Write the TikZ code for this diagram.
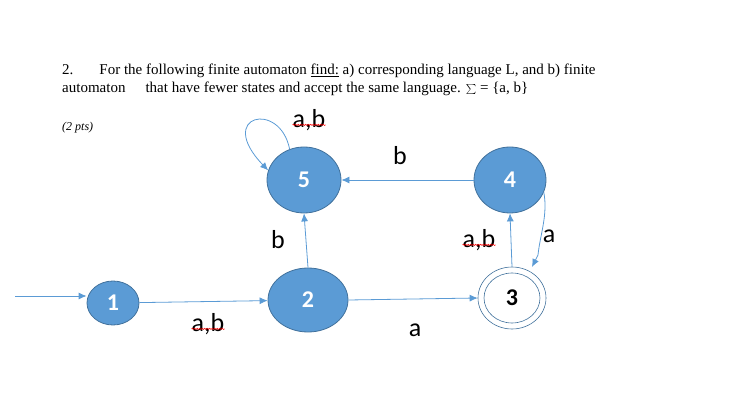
\documentclass[tikz,border=0pt]{standalone}
\usepackage{fontspec}
\setmainfont{Liberation Serif}
\newfontfamily\calfont{Carlito}
\usetikzlibrary{arrows.meta,decorations.pathmorphing,shapes.geometric}
\definecolor{fillb}{HTML}{5B9BD5}
\definecolor{edgeb}{HTML}{41719C}
\begin{document}
\begin{tikzpicture}[x=1pt,y=-1pt,
  st/.style={ellipse,draw=edgeb,fill=fillb,line width=0.8pt,text=white,font=\calfont\bfseries\fontsize{24}{24}\selectfont,inner sep=0pt},
  tr/.style={draw=fillb,line width=0.8pt,-{Latex[length=8pt,width=7pt]}},
  lb/.style={font=\calfont\fontsize{26}{26}\selectfont,inner sep=0pt},
  sq/.style={draw=red,line width=0.5pt,decorate,decoration={snake,amplitude=0.7pt,segment length=2.5pt}}]
\useasboundingbox (0,0) rectangle (729,409);
\node[anchor=base west,font=\fontsize{15}{15}\selectfont,text width=626pt,align=justify,inner sep=0pt] (h1) at (62,75) {\parfillskip=0pt 2.\hspace{26pt}For the following finite automaton \underline{find:} a) corresponding language L, and b) finite};
\node[anchor=base west,font=\fontsize{15}{15}\selectfont,inner sep=0pt] (h2) at (62,93) {automaton\hspace{20pt}that have fewer states and accept the same language. $\sum$ = \{a, b\}};
\node[anchor=base west,font=\itshape\fontsize{12}{12}\selectfont,inner sep=0pt] (pts) at (62,131) {(2 pts)};
\node[st,minimum width=52pt,minimum height=44pt] (n1) at (113,303) {1};
\node[st,minimum width=80pt,minimum height=64pt] (n2) at (308,300) {2};
\node[st,minimum width=74pt,minimum height=66pt] (n5) at (304,180) {5};
\node[st,minimum width=72pt,minimum height=66pt] (n4) at (510,180) {4};
\node[ellipse,draw=edgeb,line width=0.6pt,minimum width=68pt,minimum height=62pt,font=\calfont\bfseries\fontsize{24}{24}\selectfont,inner sep=0pt] (n3) at (512,298) {3};
\node[ellipse,draw=edgeb,line width=0.6pt,minimum width=56pt,minimum height=50pt] (n3i) at (512,298) {};
\coordinate (s) at (15,296);
\draw[tr] (s) -- (n1.west|-s);
\draw[tr] (n1) -- (n2);
\draw[tr] (n2.east) -- (n3.west);
\draw[tr] (n2.north) -- (n5.south);
\draw[tr] (n4.west) -- (n5.east);
\draw[tr] (n3.north) -- (n4.south);
\coordinate (c1) at (538,255);
\draw[tr] (n4.-20) .. controls (548,215) and (540,235) .. (c1) -- (532,267);
\draw[tr] (n5.115) .. controls (280,100) and (215,115) .. (n5.165);
\node[lb] (l1) at (309,120) {a,b};
\node[lb] (l2) at (400,156) {b};
\node[lb] (l3) at (278,240) {b};
\node[lb] (l4) at (479,240) {a,b};
\node[lb] (l5) at (549,236) {a};
\node[lb] (l6) at (208,324) {a,b};
\node[lb] (l7) at (415,330) {a};
\draw[sq] ([yshift=6pt]l1.south west) -- ([yshift=6pt]l1.south east);
\draw[sq] ([yshift=6pt]l4.south west) -- ([yshift=6pt]l4.south east);
\draw[sq] ([yshift=6pt]l6.south west) -- ([yshift=6pt]l6.south east);
\end{tikzpicture}
\end{document}
